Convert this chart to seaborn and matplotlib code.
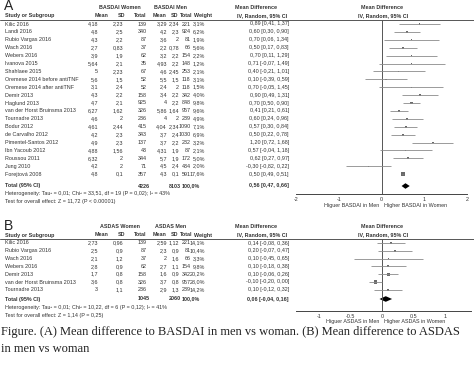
import matplotlib
matplotlib.use("Agg")
import matplotlib.pyplot as plt
import seaborn as sns
import pandas as pd

# --- Panel A : BASDAI ---
studies_a = ["Kilic 2016", "Landi 2016", "Rubio Vargas 2016", "Wach 2016", "Webers 2016",
             "Ivanova 2015", "Shahlaee 2015", "Oremese 2014 before antiTNF",
             "Oremese 2014 after antiTNF", "Demir 2013", "Haglund 2013",
             "van der Horst Bruinsma 2013", "Tournadre 2013", "Bodur 2012",
             "de Carvalho 2012", "Pimentel-Santos 2012", "Ibn Yacoub 2012",
             "Roussou 2011", "Jung 2010", "Forejtová 2008"]
w_mean_a = ["4,18", "4,8", "4,3", "2,7", "3,9", "5,64", "5", "5,6", "3,1", "4,3",
            "4,7", "6,27", "4,6", "4,61", "4,2", "4,9", "4,88", "6,32", "4,2", "4,8"]
w_sd_a = ["2,23", "2,5", "2,2", "0,83", "1,9", "2,1", "2,23", "1,5", "2,4", "2,2",
          "2,1", "1,62", "2", "2,44", "2,3", "2,3", "1,56", "2", "2", "0,1"]
w_n_a = [139, 340, 87, 37, 62, 35, 67, 52, 52, 158, 925, 326, 236, 415, 343, 137, 43, 344, 71, 357]
m_mean_a = ["3,29", "4,2", "3,6", "2,2", "3,2", "4,93", "4,6", "5,5", "2,4", "3,4",
            "4", "5,86", "4", "4,04", "3,7", "3,7", "4,31", "5,7", "4,5", "4,3"]
m_sd_a = ["2,34", "2,3", "2", "0,78", "2,2", "2,2", "2,45", "1,5", "2", "2,2",
          "2,2", "1,64", "2", "2,34", "2,4", "2,2", "1,9", "1,9", "2,4", "0,1"]
m_n_a = [221, 924, 81, 66, 154, 148, 253, 118, 118, 342, 848, 957, 239, 1090, 1030, 232, 87, 172, 434, 591]
weight_a = [3.1, 6.2, 1.9, 5.6, 2.2, 1.2, 2.1, 3.1, 1.5, 4.0, 9.8, 9.6, 4.9, 7.1, 6.9, 3.2, 2.1, 5.0, 2.0, 17.6]
md_a = [0.89, 0.60, 0.70, 0.50, 0.70, 0.71, 0.40, 0.10, 0.70, 0.90,
        0.70, 0.41, 0.60, 0.57, 0.50, 1.20, 0.57, 0.62, -0.30, 0.50]
lo_a = [0.41, 0.30, 0.06, 0.17, 0.11, -0.07, -0.21, -0.39, -0.05, 0.49,
        0.50, 0.21, 0.24, 0.30, 0.22, 0.72, -0.04, 0.27, -0.82, 0.49]
hi_a = [1.37, 0.90, 1.34, 0.83, 1.29, 1.49, 1.01, 0.59, 1.45, 1.31,
        0.90, 0.61, 0.96, 0.84, 0.78, 1.68, 1.18, 0.97, 0.22, 0.51]
total_a = {"wn": "4226", "mn": "8103", "md": 0.56, "lo": 0.47, "hi": 0.66}
het_a = "Heterogeneity: Tau² = 0,01; Chi² = 33,51, df = 19 (P = 0,02); I² = 43%"
test_a = "Test for overall effect: Z = 11,72 (P < 0.00001)"

# --- Panel B : ASDAS ---
studies_b = ["Kilic 2016", "Rubio Vargas 2016", "Wach 2016", "Webers 2016", "Demir 2013",
             "van der Horst Bruinsma 2013", "Tournadre 2013"]
w_mean_b = ["2,73", "2,5", "2,1", "2,8", "1,7", "3,6", "3"]
w_sd_b = ["0,96", "0,9", "1,2", "0,9", "0,8", "0,8", "1,1"]
w_n_b = [139, 87, 37, 62, 158, 326, 236]
m_mean_b = ["2,59", "2,3", "2", "2,7", "1,6", "3,7", "2,9"]
m_sd_b = ["1,12", "0,9", "1,6", "1,1", "0,9", "0,8", "1,3"]
m_n_b = [221, 81, 66, 154, 342, 957, 239]
weight_b = [14.1, 10.4, 3.3, 9.8, 20.2, 28.0, 14.2]
md_b = [0.14, 0.20, 0.10, 0.10, 0.10, -0.10, 0.10]
lo_b = [-0.08, -0.07, -0.45, -0.18, -0.06, -0.20, -0.12]
hi_b = [0.36, 0.47, 0.65, 0.38, 0.26, 0.00, 0.32]
total_b = {"wn": "1045", "mn": "2060", "md": 0.06, "lo": -0.04, "hi": 0.16}
het_b = "Heterogeneity: Tau² = 0,01; Chi² = 10,22, df = 6 (P = 0,12); I² = 41%"
test_b = "Test for overall effect: Z = 1,14 (P = 0,25)"

W, H = 474, 368
sns.set_style("white")
plt.rcParams['font.family'] = ['Liberation Sans', 'DejaVu Sans']
fig = plt.figure(figsize=(W / 100, H / 100), dpi=100)
fig.patch.set_facecolor("white")

# fond en coordonnées pixels pour le texte
bg = fig.add_axes([0, 0, 1, 1])
bg.set_xlim(0, W)
bg.set_ylim(H, 0)
bg.axis("off")

FS = 3.9
TXT = "#333333"


def fmt(v):
    return f"{v:.2f}".replace(".", ",")


def panel(letter, label, studies, wm, wsd, wn, mm, msd, mn, wt, md, lo, hi, tot, het, test,
          y_top, row0, pitch, y_tot, y_axis, xlim, ticks, ticklabels, side_words):
    # titre et en-têtes
    bg.text(4, y_top - 1.5, letter, fontsize=10, color="#222222", va="center", ha="left")
    bg.text(120, y_top, f"{label} Women", fontsize=FS, weight="bold", ha="center", va="center", color=TXT)
    bg.text(171, y_top, f"{label} Men", fontsize=FS, weight="bold", ha="center", va="center", color=TXT)
    bg.text(256, y_top, "Mean Difference", fontsize=FS, weight="bold", ha="center", va="center", color=TXT)
    bg.text(382, y_top, "Mean Difference", fontsize=FS, weight="bold", ha="center", va="center", color=TXT)
    y_h = y_top + 8
    bg.text(5, y_h, "Study or Subgroup", fontsize=FS, weight="bold", ha="left", va="center", color=TXT)
    for x, t in [(102, "Mean"), (122, "SD"), (140, "Total"), (160, "Mean"), (175, "SD"),
                 (186.5, "Total"), (203, "Weight")]:
        bg.text(x, y_h, t, fontsize=FS, weight="bold", ha="center", va="center", color=TXT)
    bg.text(262, y_h, "IV, Random, 95% CI", fontsize=FS, weight="bold", ha="center", va="center", color=TXT)
    bg.text(383, y_h, "IV, Random, 95% CI", fontsize=FS, weight="bold", ha="center", va="center", color=TXT)
    bg.plot([0, W], [y_h + 4, y_h + 4], color="#555555", lw=0.7)

    rows = [row0 + pitch * i for i in range(len(studies))]
    for i, y in enumerate(rows):
        bg.text(5, y, studies[i], fontsize=FS, ha="left", va="center", color=TXT)
        for x, t in [(98, wm[i]), (123, wsd[i]), (147, str(wn[i])), (167, mm[i]),
                     (179, msd[i]), (190.5, str(mn[i])), (205, fmt(wt[i])[:-1] + "%")]:
            bg.text(x, y, t, fontsize=FS, ha="right", va="center", color=TXT)
        bg.text(289, y, f"{fmt(md[i])} [{fmt(lo[i])}, {fmt(hi[i])}]", fontsize=FS,
                ha="right", va="center", color=TXT)

    bg.text(5, y_tot, "Total (95% CI)", fontsize=FS, weight="bold", ha="left", va="center", color=TXT)
    bg.text(150, y_tot, tot["wn"], fontsize=FS, weight="bold", ha="right", va="center", color=TXT)
    bg.text(181, y_tot, tot["mn"], fontsize=FS, weight="bold", ha="right", va="center", color=TXT)
    bg.text(200, y_tot, "100,0%", fontsize=FS, weight="bold", ha="right", va="center", color=TXT)
    bg.text(289, y_tot, f"{fmt(tot['md'])} [{fmt(tot['lo'])}, {fmt(tot['hi'])}]", fontsize=FS,
            weight="bold", ha="right", va="center", color=TXT)
    bg.text(5, y_tot + 8, het, fontsize=FS, ha="left", va="center", color=TXT)
    bg.text(5, y_tot + 16, test, fontsize=FS, ha="left", va="center", color=TXT)

    # forest plot
    x0, x1 = 296, 296 + (xlim[1] - xlim[0]) * (171 / 4 if label == "BASDAI" else 63)
    top = y_h + 4
    ax = fig.add_axes([x0 / W, 1 - y_axis / H, (x1 - x0) / W, (y_axis - top) / H])
    ax.set_xlim(*xlim)
    ax.set_ylim(y_axis, top)
    ax.patch.set_alpha(0)
    for s in ["top", "right", "left"]:
        ax.spines[s].set_visible(False)
    ax.spines["bottom"].set_color("#444444")
    ax.spines["bottom"].set_linewidth(0.7)
    ax.set_yticks([])
    ax.set_xticks(ticks)
    ax.set_xticklabels(ticklabels)
    ax.tick_params(axis="x", direction="inout", length=3, width=0.6, color="#444444",
                   labelsize=FS, labelcolor=TXT, pad=0.5)
    ax.axvline(0, color="#555555", lw=0.7)

    df = pd.DataFrame({"md": md, "lo": lo, "hi": hi, "w": wt, "y": rows})
    ax.hlines(df["y"], df["lo"], df["hi"], color="#8a8a8a", lw=0.6)
    sns.scatterplot(data=df, x="md", y="y", size="w", sizes=(0.5, 6), marker="s",
                    color="#6a6a6a", edgecolor="none", legend=False, ax=ax)
    ax.set_xlabel("")
    ax.set_ylabel("")
    dh = 2.8
    ax.fill([tot["lo"], tot["md"], tot["hi"], tot["md"]],
            [y_tot, y_tot - dh, y_tot, y_tot + dh], color="black", lw=0)

    bg.text(379, y_axis + 11, side_words[0], fontsize=FS, ha="right", va="center", color=TXT)
    bg.text(384, y_axis + 11, side_words[1], fontsize=FS, ha="left", va="center", color=TXT)


panel("A", "BASDAI", studies_a, w_mean_a, w_sd_a, w_n_a, m_mean_a, m_sd_a, m_n_a, weight_a,
      md_a, lo_a, hi_a, total_a, het_a, test_a,
      y_top=7.5, row0=24, pitch=7.9, y_tot=186, y_axis=194, xlim=(-2, 2),
      ticks=[-2, -1, 0, 1, 2], ticklabels=["-2", "-1", "0", "1", "2"],
      side_words=("Higuer BASDAI in Men", "Higher BASDAI in Women"))

panel("B", "ASDAS", studies_b, w_mean_b, w_sd_b, w_n_b, m_mean_b, m_sd_b, m_n_b, weight_b,
      md_b, lo_b, hi_b, total_b, het_b, test_b,
      y_top=227, row0=243, pitch=7.8, y_tot=299, y_axis=311, xlim=(-1.365, 1.41),
      ticks=[-1, -0.5, 0, 0.5, 1], ticklabels=["-1", "-0.5", "0", "0.5", "1"],
      side_words=("Higuer ASDAS in Men", "Higher ASDAS in Women"))

cap = "Figure. (A) Mean difference to BASDAI in men vs woman. (B) Mean difference to ASDAS"
serif = ["Liberation Serif", "DejaVu Serif"]
bg.text(1, 332, cap, fontsize=9.0, family=serif, ha="left", va="center", color="#222222")
bg.text(1, 349, "in men vs woman", fontsize=9.0, family=serif, ha="left", va="center", color="#222222")

fig.savefig("out.png", dpi=100)
